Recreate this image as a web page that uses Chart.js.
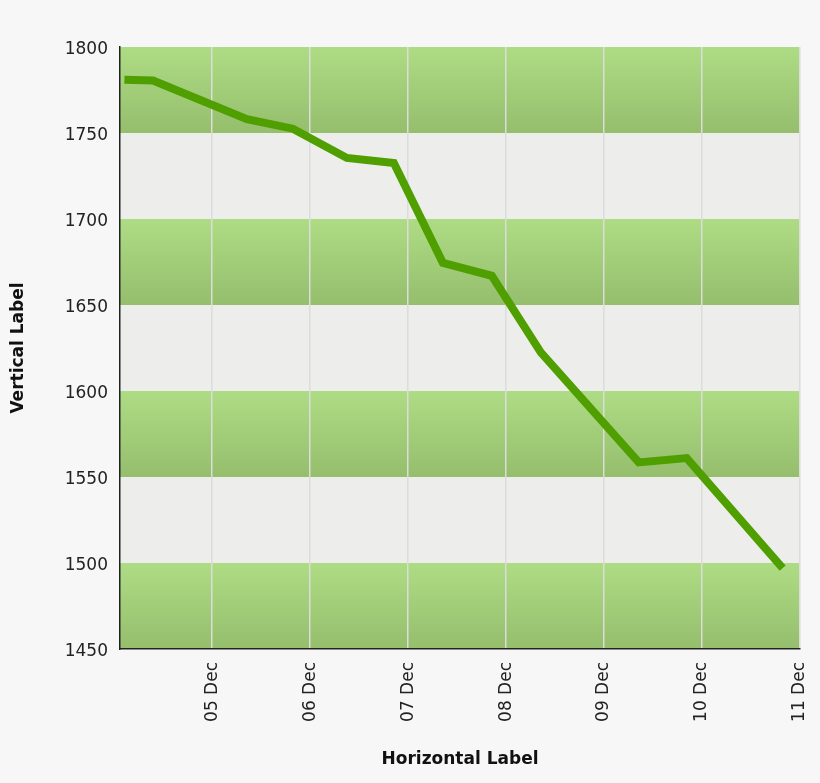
<!DOCTYPE html>
<html lang="en">
  <head>
    <meta charset="UTF-8" />
    <title>Line chart</title>
    <script src="https://cdn.jsdelivr.net/npm/chart.js"></script>
    <style>
      html, body { margin: 0; padding: 0; background: #f7f7f7; }
      #wrap { width: 820px; height: 783px; }
    </style>
  </head>
  <body>
    <div id="wrap"><canvas id="lineChart"></canvas></div>

    <script>
      // data
      const times = [
        "2023-12-04T02:30", "2023-12-04T09:30", "2023-12-05T08:30", "2023-12-05T19:45",
        "2023-12-06T09:00", "2023-12-06T20:30", "2023-12-07T08:30", "2023-12-07T20:30",
        "2023-12-08T08:30", "2023-12-09T08:30", "2023-12-09T20:15", "2023-12-10T19:45"
      ];
      const values = [1781, 1780.5, 1758, 1752.5, 1735.5, 1732.5, 1674.5, 1667, 1622.5, 1558.5, 1561, 1497];

      const dayTicks = ["2023-12-05", "2023-12-06", "2023-12-07", "2023-12-08", "2023-12-09", "2023-12-10", "2023-12-11"];
      const dayLabels = ["05 Dec", "06 Dec", "07 Dec", "08 Dec", "09 Dec", "10 Dec", "11 Dec"];
      const xStart = "2023-12-04T01:25";
      const xEnd = "2023-12-11T00:00";
      const yMin = 1450, yMax = 1800, yStep = 50;

      const toMs = (s) => Date.parse(s + (s.length > 10 ? ":00Z" : "T00:00:00Z"));
      const tickValues = dayTicks.map(toMs);

      // striped background: every other y interval gets a green gradient
      const bandsPlugin = {
        id: "bands",
        beforeDraw(chart) {
          const { ctx, chartArea: a, scales } = chart;
          const y = scales.y;
          ctx.save();
          ctx.fillStyle = "#f7f7f7";
          ctx.fillRect(0, 0, chart.width, chart.height);
          ctx.fillStyle = "#ededeb";
          ctx.fillRect(a.left, a.top, a.right - a.left, a.bottom - a.top);
          for (let v = yMin; v < yMax; v += yStep * 2) {
            const top = y.getPixelForValue(v + yStep);
            const bot = y.getPixelForValue(v);
            const g = ctx.createLinearGradient(0, top, 0, bot);
            g.addColorStop(0, "#aedc84");
            g.addColorStop(1, "#95be6d");
            ctx.fillStyle = g;
            ctx.fillRect(a.left, top, a.right - a.left, bot - top);
          }
          ctx.restore();
        },
      };

      const font = { family: "'DejaVu Sans', sans-serif", size: 17 };

      new Chart(document.getElementById("lineChart"), {
        type: "line",
        data: {
          datasets: [
            {
              data: times.map((t, i) => ({ x: toMs(t), y: values[i] })),
              borderColor: "#4f9f00",
              borderWidth: 8,
              pointRadius: 0,
              tension: 0,
              fill: false,
            },
          ],
        },
        options: {
          responsive: true,
          maintainAspectRatio: false,
          animation: false,
          layout: { padding: { top: 47, right: 20, left: 0, bottom: 0 } },
          plugins: { legend: { display: false }, tooltip: { enabled: false } },
          scales: {
            x: {
              type: "linear",
              min: toMs(xStart),
              max: toMs(xEnd),
              afterBuildTicks: (s) => { s.ticks = tickValues.map((v) => ({ value: v })); },
              afterFit: (s) => { s.height = 134; s.paddingLeft = 0; s.paddingRight = 0; },
              grid: { color: "#dcdcdc", lineWidth: 1.5, drawTicks: false },
              border: { display: true, color: "#222", width: 1.5 },
              ticks: {
                color: "#222",
                font: font,
                padding: 13,
                minRotation: 90,
                maxRotation: 90,
                callback: (v) => dayLabels[tickValues.indexOf(v)],
              },
              title: {
                display: true,
                text: "Horizontal Label",
                color: "#111",
                font: { ...font, weight: "bold" },
                padding: { top: 0, bottom: 13 },
              },
            },
            y: {
              min: yMin,
              max: yMax,
              afterFit: (s) => { s.width = 120; s.paddingTop = 0; s.paddingBottom = 0; },
              grid: { display: false, drawTicks: false },
              border: { display: true, color: "#222", width: 1.5 },
              ticks: { stepSize: yStep, color: "#222", font: font, padding: 12, labelOffset: 3, callback: (v) => String(v) },
              title: {
                display: true,
                text: "Vertical Label",
                color: "#111",
                font: { ...font, weight: "bold" },
                padding: { top: 8, bottom: 0 },
              },
            },
          },
        },
        plugins: [bandsPlugin],
      });
    </script>
  </body>
</html>
